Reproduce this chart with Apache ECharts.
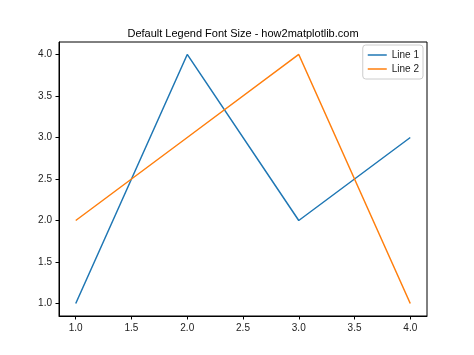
<!DOCTYPE html>
<html>
<head>
<meta charset="utf-8">
<script src="https://cdn.jsdelivr.net/npm/echarts@6/dist/echarts.min.js"></script>
<style>
  html, body { margin: 0; padding: 0; background: #fff; }
  #plot { width: 474px; height: 355px; }
</style>
</head>
<body>
<div id="plot"></div>
<script>
const xValues = [1, 2, 3, 4];
const line1 = [1, 4, 2, 3];
const line2 = [2, 3, 4, 1];
const tickValues = [1.0, 1.5, 2.0, 2.5, 3.0, 3.5, 4.0];

const chart = echarts.init(document.getElementById('plot'));
const font = 'Liberation Sans';

const axisCommon = {
    type: 'value',
    min: 0.85,
    max: 4.15,
    axisLine: { show: true, lineStyle: { color: '#000', width: 1 } },
    axisTick: { show: true, inside: false, length: 3.5, customValues: tickValues, lineStyle: { color: '#000' } },
    axisLabel: {
        customValues: tickValues,
        formatter: v => v.toFixed(1),
        color: '#222', fontFamily: font, fontSize: 10, margin: 7
    },
    splitLine: { show: false }
};

chart.setOption({
    animation: false,
    title: {
        text: 'Default Legend Font Size - how2matplotlib.com',
        left: 243, top: 28, padding: 0, textAlign: 'center',
        textStyle: { fontFamily: font, fontSize: 11, fontWeight: 'normal', color: '#000' }
    },
    grid: { left: 59, right: 47, top: 42, bottom: 39, show: true, borderColor: '#000', borderWidth: 1 },
    legend: {
        orient: 'vertical', right: 51, top: 45,
        data: ['Line 1', 'Line 2'],
        icon: 'rect', itemWidth: 19, itemHeight: 1.5, itemGap: 4,
        padding: [5, 4, 5, 5],
        backgroundColor: '#fff', borderColor: '#ccc', borderWidth: 1, borderRadius: 3,
        textStyle: { fontFamily: font, fontSize: 10, color: '#222' }
    },
    xAxis: axisCommon,
    yAxis: axisCommon,
    series: [
        { name: 'Line 1', type: 'line', data: xValues.map((x, i) => [x, line1[i]]), showSymbol: false,
          lineStyle: { color: '#1f77b4', width: 1.5 }, itemStyle: { color: '#1f77b4' } },
        { name: 'Line 2', type: 'line', data: xValues.map((x, i) => [x, line2[i]]), showSymbol: false,
          lineStyle: { color: '#ff7f0e', width: 1.5 }, itemStyle: { color: '#ff7f0e' } }
    ]
});
</script>
</body>
</html>
